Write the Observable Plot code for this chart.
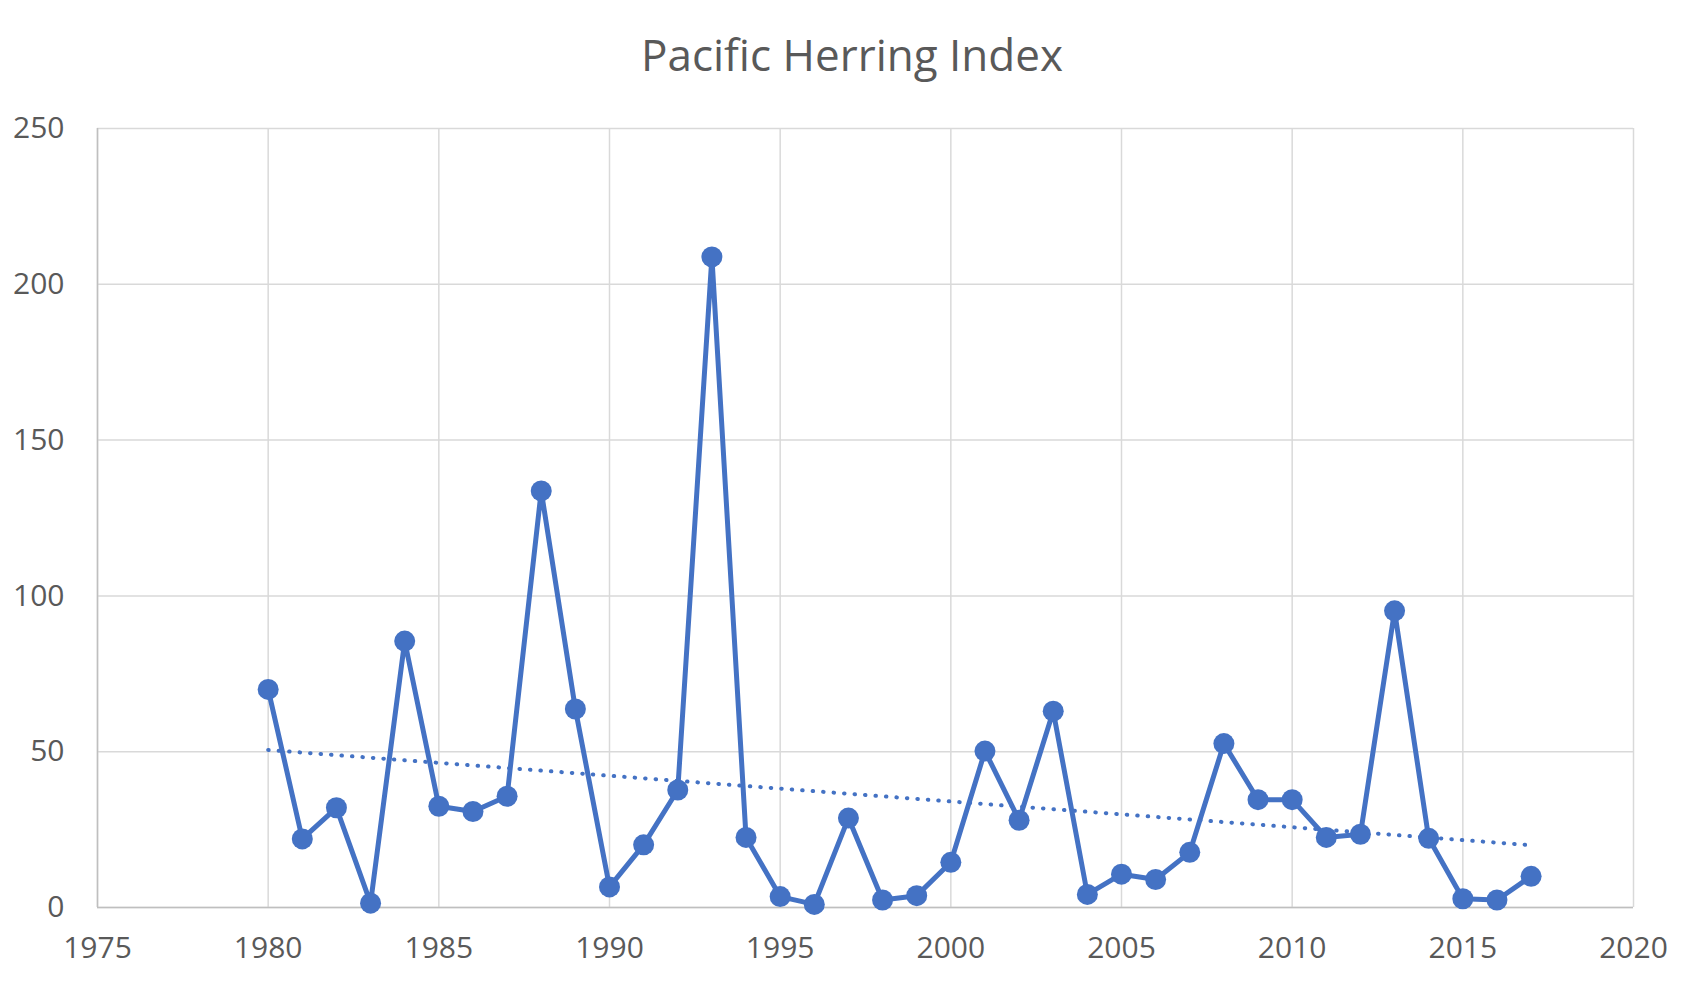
<!DOCTYPE html>
<html>
<head>
<meta charset="utf-8">
<script src="https://cdn.jsdelivr.net/npm/d3@7"></script>
<script src="https://cdn.jsdelivr.net/npm/@observablehq/plot@0.6"></script>
<style>
  html, body { margin: 0; padding: 0; background: #fff; }
  #wrap { width: 1692px; height: 985px; position: relative; overflow: hidden; }
  #title { height: 100px; line-height: 108px; text-align: center; font-family: "Open Sans", sans-serif; font-size: 44px; color: #595959; padding-left: 12px; box-sizing: border-box; }
</style>
</head>
<body>
<div id="wrap">
  <div id="title">Pacific Herring Index</div>
  <div id="chart"></div>
</div>
<script>
const years = [1980,1981,1982,1983,1984,1985,1986,1987,1988,1989,1990,1991,1992,1993,1994,1995,1996,1997,1998,1999,2000,2001,2002,2003,2004,2005,2006,2007,2008,2009,2010,2011,2012,2013,2014,2015,2016,2017];
const index = [70,22,32,1.4,85.5,32.5,30.8,35.7,133.7,63.7,6.6,20.1,37.7,208.8,22.5,3.5,1,28.7,2.4,3.8,14.5,50.2,28,63,4.2,10.7,9,17.7,52.6,34.6,34.6,22.5,23.5,95.2,22.2,2.8,2.4,10];
const xTicks = [1975,1980,1985,1990,1995,2000,2005,2010,2015,2020];
const yTicks = [0,50,100,150,200,250];

const data = years.map((y, i) => ({year: y, value: index[i]}));
const blue = "#4472c4";

const chart = Plot.plot({
  width: 1692,
  height: 885,
  marginTop: 28,
  marginBottom: 78,
  marginLeft: 97,
  marginRight: 59,
  style: {fontFamily: "Open Sans, sans-serif", fontSize: "30px", color: "#595959", background: "#fff"},
  x: {domain: [1975, 2020], ticks: xTicks, tickFormat: "d", label: null},
  y: {domain: [0, 250], ticks: yTicks, label: null},
  marks: [
    Plot.gridX(xTicks, {stroke: "#d9d9d9", strokeOpacity: 1, strokeWidth: 1.5}),
    Plot.gridY(yTicks, {stroke: "#d9d9d9", strokeOpacity: 1, strokeWidth: 1.5}),
    Plot.ruleX([1975], {stroke: "#bfbfbf", strokeWidth: 1.5}),
    Plot.ruleY([0], {stroke: "#bfbfbf", strokeWidth: 1.5}),
    Plot.axisX({ticks: xTicks, tickFormat: "d", tickSize: 0, tickPadding: 29, fill: "#595959", label: null}),
    Plot.axisY({ticks: yTicks, tickSize: 0, tickPadding: 33, fill: "#595959", label: null}),
    Plot.linearRegressionY(data, {x: "year", y: "value", ci: 0, stroke: blue, strokeWidth: 4, strokeDasharray: "0.5 10", strokeLinecap: "round"}),
    Plot.line(data, {x: "year", y: "value", stroke: blue, strokeWidth: 5, strokeLinejoin: "round"}),
    Plot.dot(data, {x: "year", y: "value", r: 10.5, fill: blue, stroke: blue, strokeWidth: 0})
  ]
});
document.getElementById("chart").appendChild(chart);
</script>
</body>
</html>
